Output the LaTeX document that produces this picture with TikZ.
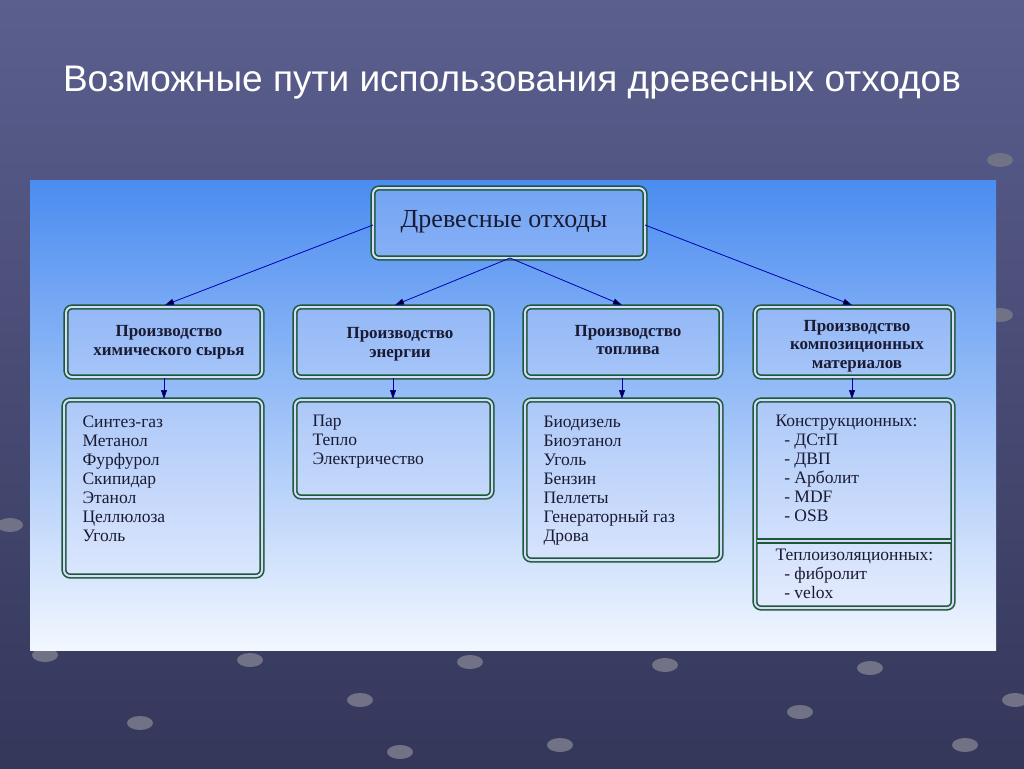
\documentclass[tikz,border=0pt]{standalone}
\usepackage{fontspec}
\setmainfont{Liberation Serif}
\newfontfamily\titlefont{Liberation Sans}
\usetikzlibrary{arrows.meta,shadows}
\definecolor{bgA}{HTML}{5B5F8E}
\definecolor{bgB}{HTML}{34375A}
\definecolor{pTop}{HTML}{4A8CF0}
\definecolor{pBot}{HTML}{F2F7FF}
\definecolor{bord}{HTML}{1A5A34}
\definecolor{txt}{HTML}{1A1A33}
\tikzset{
  bx/.style={draw=bord, double=white!85!blue, double distance=2pt, line width=1.6pt, rounded corners=6pt, fill=white!70!blue!30, fill opacity=0.25, text opacity=1},
  hd/.style={font=\bfseries\fontsize{17}{18.5}\selectfont, text=txt, align=center},
  ls/.style={font=\fontsize{17.5}{19}\selectfont, text=txt, align=left, anchor=north west},
  ar/.style={draw=blue!70!black, line width=0.8pt, -{Triangle[length=9pt,width=6pt,fill=black]}},
}
\begin{document}
\begin{tikzpicture}[x=1pt,y=-1pt]
\useasboundingbox (0,0) rectangle (1024,768);
\shade[top color=bgA, bottom color=bgB] (0,0) rectangle (1024,768);
\foreach \p in {(140,723),(250,660),(360,700),(470,662),(560,745),(665,665),(800,712),(870,668),(965,745),(1015,700),(45,655),(400,752),(1000,160),(10,525),(1000,315)}
  \fill[gray!60!bgA] \p ellipse (13 and 7);
\node[text=white, font=\titlefont\fontsize{37}{40}\selectfont] (title) at (512,83) {Возможные пути использования древесных отходов};
\shade[top color=pTop, bottom color=pBot] (30,180) rectangle (996,650);
% boxes
\draw[bx] (373,188) rectangle (645,258);
\node[font=\fontsize{26}{30}\selectfont, text=txt] (top) at (504,222) {Древесные отходы};
\coordinate (tl) at (373,225); \coordinate (tr) at (645,225); \coordinate (tb) at (510,258);
\draw[bx] (66,307) rectangle (262,377);
\node[hd] (a) at (169,342) {Производство\\химического сырья};
\draw[bx] (295,307) rectangle (492,377);
\node[hd] (b) at (400,344) {Производство\\энергии};
\draw[bx] (525,307) rectangle (721,377);
\node[hd] (c) at (628,340) {Производство\\топлива};
\draw[bx] (755,307) rectangle (953,377);
\node[hd] (d) at (857,346) {Производство\\композиционных\\материалов};
\draw[bx] (64,400) rectangle (262,576);
\node[ls] (la) at (79,412) {Синтез-газ\\Метанол\\Фурфурол\\Скипидар\\Этанол\\Целлюлоза\\Уголь};
\draw[bx] (295,400) rectangle (492,497);
\node[ls] (lb) at (309,412) {Пар\\Тепло\\Электричество};
\draw[bx] (525,400) rectangle (721,560);
\node[ls] (lc) at (540,412) {Биодизель\\Биоэтанол\\Уголь\\Бензин\\Пеллеты\\Генераторный газ\\Дрова};
\draw[bx] (755,400) rectangle (953,608);
\draw[draw=bord, double=white!85!blue, double distance=2pt, line width=1.6pt] (757,541) -- (951,541);
\node[ls] (ld1) at (772,412) {Конструкционных:\\\ \ - ДСтП\\\ \ - ДВП\\\ \ - Арболит\\\ \ - MDF\\\ \ - OSB};
\node[ls] (ld2) at (772,545) {Теплоизоляционных:\\\ \ - фибролит\\\ \ - velox};
% arrows
\coordinate (a1) at (165,305); \coordinate (b1) at (395,305); \coordinate (c1) at (622,305); \coordinate (d1) at (852,305);
\draw[ar] (tl) -- (a1);
\draw[ar] (tb) -- (b1);
\draw[ar] (tb) -- (c1);
\draw[ar] (tr) -- (d1);
\foreach \x in {164,393,622,852}
  \draw[ar] (\x,378) -- (\x,399);
\end{tikzpicture}
\end{document}
